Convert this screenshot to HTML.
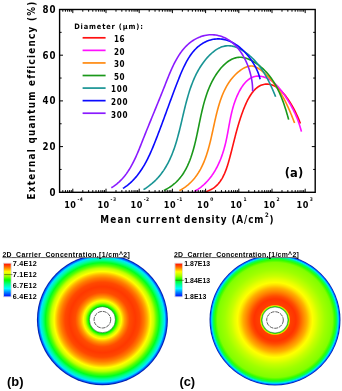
<!DOCTYPE html>
<html><head><meta charset="utf-8"><style>html,body{margin:0;padding:0;background:#fff;width:342px;height:391px;overflow:hidden}svg{display:block;filter:blur(0.3px)}</style></head>
<body>
<svg width="342" height="391" viewBox="0 0 342 391">
<rect width="342" height="391" fill="#fff"/>
<path d="M206.06,191.50 L207.25,191.15 L208.41,190.75 L209.52,190.30 L210.58,189.81 L211.61,189.27 L212.60,188.68 L213.56,188.05 L214.47,187.39 L215.35,186.68 L216.20,185.94 L217.01,185.16 L217.79,184.34 L218.54,183.49 L219.25,182.62 L219.94,181.71 L220.60,180.78 L221.23,179.81 L221.84,178.83 L222.42,177.82 L222.97,176.79 L223.51,175.74 L224.02,174.67 L224.51,173.59 L224.98,172.49 L225.43,171.38 L225.87,170.26 L226.29,169.12 L226.69,167.98 L227.08,166.83 L227.45,165.68 L227.81,164.52 L228.16,163.36 L228.50,162.20 L228.83,161.04 L229.16,159.89 L229.47,158.74 L229.78,157.59 L230.09,156.45 L230.39,155.32 L230.68,154.19 L230.97,153.07 L231.26,151.95 L231.55,150.84 L231.83,149.73 L232.11,148.62 L232.38,147.52 L232.66,146.42 L232.93,145.32 L233.20,144.23 L233.48,143.13 L233.75,142.04 L234.02,140.95 L234.30,139.86 L234.57,138.77 L234.85,137.68 L235.13,136.59 L235.41,135.50 L235.69,134.41 L235.98,133.31 L236.28,132.21 L236.57,131.12 L236.87,130.01 L237.18,128.91 L237.49,127.80 L237.81,126.69 L238.13,125.57 L238.47,124.45 L238.80,123.33 L239.15,122.20 L239.50,121.06 L239.87,119.92 L240.24,118.77 L240.62,117.61 L241.01,116.45 L241.41,115.27 L241.82,114.09 L242.24,112.91 L242.68,111.72 L243.12,110.52 L243.58,109.32 L244.05,108.13 L244.53,106.93 L245.03,105.75 L245.54,104.57 L246.06,103.40 L246.60,102.25 L247.15,101.11 L247.72,99.98 L248.30,98.88 L248.90,97.80 L249.51,96.74 L250.15,95.71 L250.79,94.71 L251.46,93.74 L252.14,92.80 L252.84,91.90 L253.55,91.03 L254.29,90.21 L255.05,89.43 L255.82,88.69 L256.61,88.00 L257.43,87.36 L258.26,86.77 L259.11,86.23 L259.99,85.75 L260.89,85.33 L261.80,84.97 L262.74,84.67 L263.70,84.43 L264.67,84.26 L265.66,84.15 L266.65,84.11 L267.65,84.12 L268.65,84.21 L269.65,84.36 L270.65,84.57 L271.64,84.85 L272.62,85.19 L273.58,85.59 L274.54,86.06 L275.49,86.58 L276.43,87.15 L277.35,87.78 L278.27,88.45 L279.17,89.18 L280.06,89.94 L280.94,90.75 L281.80,91.60 L282.65,92.49 L283.49,93.41 L284.31,94.36 L285.12,95.34 L285.92,96.35 L286.70,97.38 L287.46,98.43 L288.21,99.50 L288.95,100.59 L289.66,101.69 L290.36,102.81 L291.05,103.93 L291.72,105.06 L292.37,106.19 L293.00,107.33 L293.61,108.46 L294.21,109.59 L294.78,110.71 L295.34,111.83 L295.88,112.93 L296.40,114.02 L296.90,115.09 L297.38,116.15 L297.83,117.18 L298.27,118.19 L298.69,119.17 L299.08,120.12 L299.45,121.04 L299.80,121.93 L300.13,122.78 L300.43,123.59" fill="none" stroke="#ff1010" stroke-width="1.6" stroke-linecap="butt" stroke-linejoin="round"/>
<path d="M194.31,191.35 L195.49,190.70 L196.64,190.02 L197.77,189.31 L198.87,188.57 L199.95,187.81 L201.00,187.02 L202.03,186.20 L203.03,185.35 L204.01,184.49 L204.96,183.59 L205.89,182.68 L206.80,181.74 L207.69,180.78 L208.55,179.79 L209.39,178.79 L210.21,177.76 L211.01,176.72 L211.79,175.66 L212.54,174.58 L213.28,173.48 L213.99,172.36 L214.69,171.23 L215.36,170.09 L216.02,168.92 L216.65,167.75 L217.27,166.56 L217.87,165.36 L218.45,164.14 L219.01,162.92 L219.55,161.68 L220.08,160.44 L220.59,159.18 L221.08,157.92 L221.55,156.64 L222.01,155.36 L222.46,154.08 L222.88,152.79 L223.30,151.49 L223.69,150.19 L224.07,148.88 L224.44,147.57 L224.79,146.26 L225.13,144.94 L225.46,143.63 L225.77,142.31 L226.07,140.99 L226.36,139.67 L226.63,138.36 L226.90,137.04 L227.16,135.72 L227.42,134.40 L227.67,133.08 L227.91,131.76 L228.15,130.44 L228.39,129.12 L228.63,127.80 L228.87,126.48 L229.10,125.16 L229.35,123.84 L229.59,122.52 L229.84,121.20 L230.10,119.88 L230.36,118.56 L230.63,117.24 L230.91,115.92 L231.20,114.60 L231.50,113.28 L231.82,111.96 L232.15,110.64 L232.49,109.33 L232.85,108.01 L233.23,106.69 L233.62,105.37 L234.04,104.05 L234.48,102.74 L234.93,101.42 L235.42,100.10 L235.92,98.79 L236.45,97.47 L237.01,96.16 L237.59,94.85 L238.20,93.55 L238.84,92.26 L239.50,90.99 L240.19,89.75 L240.91,88.53 L241.65,87.34 L242.42,86.18 L243.22,85.07 L244.04,84.00 L244.89,82.99 L245.77,82.02 L246.67,81.11 L247.60,80.27 L248.56,79.49 L249.54,78.79 L250.55,78.16 L251.58,77.61 L252.65,77.15 L253.73,76.77 L254.85,76.48 L255.98,76.28 L257.13,76.17 L258.30,76.14 L259.47,76.19 L260.66,76.31 L261.85,76.52 L263.04,76.79 L264.23,77.14 L265.41,77.56 L266.59,78.04 L267.75,78.59 L268.90,79.21 L270.03,79.88 L271.15,80.61 L272.23,81.40 L273.30,82.24 L274.35,83.12 L275.37,84.06 L276.38,85.03 L277.36,86.05 L278.32,87.09 L279.27,88.17 L280.19,89.28 L281.09,90.41 L281.98,91.56 L282.84,92.73 L283.68,93.92 L284.51,95.11 L285.32,96.31 L286.11,97.52 L286.88,98.72 L287.63,99.92 L288.37,101.12 L289.09,102.31 L289.79,103.50 L290.48,104.69 L291.14,105.88 L291.79,107.07 L292.43,108.25 L293.04,109.44 L293.64,110.63 L294.23,111.82 L294.80,113.01 L295.35,114.20 L295.88,115.40 L296.40,116.60 L296.90,117.81 L297.39,119.03 L297.86,120.24 L298.32,121.47 L298.76,122.71 L299.19,123.95 L299.60,125.20 L299.99,126.46 L300.37,127.73 L300.74,129.01 L301.09,130.31 L301.42,131.61" fill="none" stroke="#ff10ff" stroke-width="1.6" stroke-linecap="butt" stroke-linejoin="round"/>
<path d="M179.36,190.69 L180.68,189.97 L181.95,189.22 L183.19,188.44 L184.39,187.63 L185.55,186.80 L186.68,185.94 L187.77,185.05 L188.83,184.14 L189.86,183.21 L190.85,182.25 L191.81,181.27 L192.75,180.26 L193.65,179.24 L194.52,178.19 L195.36,177.12 L196.18,176.03 L196.97,174.92 L197.73,173.79 L198.47,172.65 L199.18,171.48 L199.87,170.30 L200.54,169.10 L201.18,167.88 L201.80,166.65 L202.40,165.40 L202.98,164.13 L203.54,162.86 L204.08,161.57 L204.60,160.26 L205.11,158.95 L205.60,157.62 L206.07,156.28 L206.53,154.92 L206.97,153.56 L207.40,152.19 L207.82,150.81 L208.23,149.42 L208.62,148.03 L209.00,146.62 L209.38,145.21 L209.74,143.79 L210.10,142.37 L210.45,140.94 L210.79,139.51 L211.13,138.07 L211.46,136.63 L211.78,135.18 L212.10,133.74 L212.42,132.29 L212.74,130.84 L213.06,129.39 L213.37,127.94 L213.68,126.49 L214.00,125.04 L214.31,123.59 L214.63,122.14 L214.95,120.70 L215.28,119.26 L215.61,117.82 L215.94,116.39 L216.28,114.96 L216.63,113.54 L216.99,112.13 L217.35,110.72 L217.72,109.32 L218.10,107.92 L218.49,106.54 L218.90,105.16 L219.31,103.79 L219.74,102.43 L220.18,101.09 L220.63,99.75 L221.10,98.42 L221.59,97.11 L222.09,95.81 L222.61,94.53 L223.15,93.25 L223.70,92.00 L224.28,90.75 L224.87,89.53 L225.49,88.32 L226.13,87.12 L226.79,85.94 L227.47,84.78 L228.18,83.64 L228.91,82.52 L229.66,81.42 L230.45,80.34 L231.26,79.28 L232.10,78.24 L232.96,77.22 L233.86,76.22 L234.78,75.25 L235.74,74.30 L236.72,73.37 L237.74,72.47 L238.80,71.59 L239.88,70.74 L241.00,69.92 L242.15,69.14 L243.33,68.42 L244.53,67.76 L245.76,67.19 L247.00,66.71 L248.26,66.34 L249.53,66.10 L250.80,65.99 L252.09,66.04 L253.37,66.25 L254.66,66.62 L255.94,67.14 L257.21,67.77 L258.47,68.50 L259.71,69.31 L260.93,70.17 L262.12,71.08 L263.29,72.02 L264.44,73.00 L265.56,74.01 L266.66,75.05 L267.73,76.12 L268.78,77.21 L269.81,78.33 L270.81,79.46 L271.79,80.61 L272.74,81.78 L273.68,82.96 L274.58,84.15 L275.47,85.34 L276.33,86.54 L277.17,87.75 L277.99,88.95 L278.78,90.15 L279.55,91.35 L280.31,92.54 L281.04,93.74 L281.75,94.93 L282.44,96.12 L283.12,97.32 L283.78,98.51 L284.42,99.71 L285.05,100.92 L285.67,102.13 L286.27,103.35 L286.87,104.57 L287.45,105.80 L288.03,107.05 L288.59,108.30 L289.15,109.56 L289.70,110.84 L290.25,112.13 L290.80,113.44 L291.34,114.76 L291.88,116.10 L292.41,117.45 L292.95,118.82 L293.49,120.22 L294.03,121.63 L294.58,123.07" fill="none" stroke="#ff8a10" stroke-width="1.6" stroke-linecap="butt" stroke-linejoin="round"/>
<path d="M163.82,190.36 L165.29,189.67 L166.72,188.94 L168.10,188.17 L169.43,187.36 L170.72,186.51 L171.97,185.62 L173.18,184.70 L174.34,183.74 L175.46,182.75 L176.55,181.72 L177.59,180.67 L178.60,179.58 L179.57,178.46 L180.50,177.31 L181.40,176.13 L182.27,174.93 L183.11,173.70 L183.91,172.45 L184.68,171.17 L185.42,169.87 L186.14,168.54 L186.83,167.20 L187.49,165.84 L188.12,164.45 L188.74,163.05 L189.32,161.63 L189.89,160.20 L190.43,158.75 L190.96,157.29 L191.46,155.81 L191.95,154.32 L192.42,152.83 L192.87,151.32 L193.31,149.80 L193.73,148.28 L194.14,146.75 L194.53,145.21 L194.92,143.67 L195.29,142.12 L195.66,140.57 L196.02,139.02 L196.37,137.47 L196.71,135.91 L197.05,134.35 L197.38,132.79 L197.70,131.23 L198.03,129.67 L198.35,128.11 L198.67,126.54 L198.99,124.98 L199.31,123.42 L199.63,121.86 L199.95,120.31 L200.28,118.75 L200.61,117.20 L200.94,115.65 L201.28,114.10 L201.63,112.56 L201.98,111.02 L202.35,109.49 L202.72,107.96 L203.10,106.43 L203.49,104.91 L203.89,103.40 L204.31,101.89 L204.74,100.39 L205.18,98.90 L205.64,97.42 L206.12,95.94 L206.61,94.47 L207.12,93.02 L207.65,91.57 L208.20,90.13 L208.77,88.70 L209.36,87.28 L209.98,85.87 L210.61,84.47 L211.28,83.08 L211.96,81.71 L212.67,80.35 L213.41,79.00 L214.18,77.66 L214.97,76.34 L215.80,75.03 L216.65,73.74 L217.54,72.46 L218.46,71.20 L219.41,69.96 L220.38,68.75 L221.39,67.57 L222.43,66.44 L223.49,65.34 L224.59,64.30 L225.71,63.30 L226.85,62.37 L228.03,61.49 L229.22,60.69 L230.45,59.96 L231.70,59.30 L232.97,58.73 L234.26,58.25 L235.58,57.86 L236.92,57.57 L238.29,57.38 L239.67,57.29 L241.08,57.32 L242.50,57.47 L243.94,57.72 L245.39,58.07 L246.84,58.52 L248.29,59.05 L249.75,59.67 L251.19,60.36 L252.62,61.12 L254.04,61.94 L255.43,62.82 L256.80,63.74 L258.14,64.71 L259.45,65.72 L260.71,66.76 L261.94,67.82 L263.14,68.92 L264.29,70.04 L265.42,71.19 L266.50,72.36 L267.56,73.55 L268.58,74.77 L269.57,76.01 L270.52,77.27 L271.45,78.55 L272.35,79.85 L273.21,81.17 L274.05,82.50 L274.87,83.85 L275.65,85.22 L276.41,86.59 L277.15,87.98 L277.86,89.38 L278.55,90.79 L279.21,92.22 L279.86,93.64 L280.48,95.08 L281.08,96.52 L281.67,97.97 L282.23,99.42 L282.78,100.88 L283.31,102.33 L283.83,103.79 L284.33,105.25 L284.81,106.71 L285.28,108.16 L285.74,109.61 L286.19,111.06 L286.62,112.50 L287.05,113.94 L287.46,115.37 L287.87,116.79 L288.27,118.20 L288.66,119.61" fill="none" stroke="#1a981a" stroke-width="1.6" stroke-linecap="butt" stroke-linejoin="round"/>
<path d="M143.51,189.60 L144.93,188.73 L146.31,187.83 L147.66,186.90 L148.96,185.95 L150.23,184.97 L151.47,183.98 L152.66,182.95 L153.82,181.91 L154.95,180.84 L156.05,179.76 L157.11,178.65 L158.14,177.52 L159.14,176.37 L160.10,175.20 L161.04,174.01 L161.95,172.80 L162.83,171.58 L163.69,170.33 L164.51,169.07 L165.32,167.79 L166.09,166.50 L166.84,165.19 L167.57,163.86 L168.28,162.52 L168.96,161.17 L169.62,159.80 L170.26,158.42 L170.88,157.02 L171.48,155.61 L172.07,154.19 L172.63,152.76 L173.18,151.31 L173.71,149.86 L174.23,148.40 L174.73,146.92 L175.22,145.44 L175.69,143.94 L176.16,142.44 L176.61,140.94 L177.05,139.42 L177.48,137.90 L177.90,136.37 L178.31,134.83 L178.72,133.29 L179.11,131.75 L179.50,130.20 L179.89,128.64 L180.27,127.08 L180.64,125.52 L181.02,123.96 L181.39,122.39 L181.75,120.82 L182.12,119.26 L182.49,117.69 L182.85,116.12 L183.22,114.55 L183.59,112.98 L183.96,111.41 L184.34,109.84 L184.72,108.28 L185.10,106.72 L185.49,105.16 L185.89,103.60 L186.30,102.05 L186.71,100.51 L187.13,98.96 L187.56,97.43 L188.00,95.90 L188.45,94.37 L188.91,92.86 L189.39,91.35 L189.87,89.85 L190.38,88.35 L190.89,86.87 L191.42,85.39 L191.97,83.93 L192.54,82.47 L193.12,81.03 L193.72,79.59 L194.34,78.17 L194.98,76.76 L195.64,75.36 L196.33,73.98 L197.03,72.60 L197.76,71.25 L198.51,69.90 L199.28,68.58 L200.09,67.26 L200.91,65.97 L201.77,64.69 L202.65,63.42 L203.56,62.18 L204.49,60.95 L205.46,59.74 L206.46,58.55 L207.49,57.38 L208.55,56.23 L209.63,55.12 L210.75,54.04 L211.89,53.01 L213.06,52.02 L214.26,51.08 L215.48,50.20 L216.72,49.39 L217.99,48.64 L219.28,47.96 L220.59,47.37 L221.93,46.85 L223.28,46.43 L224.65,46.10 L226.04,45.87 L227.45,45.74 L228.87,45.73 L230.31,45.83 L231.77,46.04 L233.23,46.35 L234.70,46.77 L236.16,47.28 L237.63,47.88 L239.09,48.55 L240.53,49.30 L241.97,50.11 L243.38,50.98 L244.77,51.91 L246.13,52.88 L247.47,53.89 L248.76,54.93 L250.02,56.00 L251.25,57.10 L252.44,58.22 L253.59,59.37 L254.72,60.54 L255.80,61.73 L256.86,62.94 L257.89,64.18 L258.89,65.43 L259.85,66.70 L260.79,67.99 L261.71,69.29 L262.59,70.60 L263.45,71.93 L264.29,73.27 L265.10,74.62 L265.89,75.99 L266.66,77.35 L267.41,78.73 L268.13,80.11 L268.84,81.50 L269.53,82.89 L270.20,84.29 L270.86,85.68 L271.50,87.08 L272.13,88.47 L272.74,89.87 L273.34,91.26 L273.92,92.64 L274.50,94.02 L275.07,95.40 L275.62,96.76" fill="none" stroke="#189494" stroke-width="1.6" stroke-linecap="butt" stroke-linejoin="round"/>
<path d="M122.92,188.42 L124.24,187.57 L125.52,186.69 L126.77,185.78 L127.99,184.83 L129.17,183.85 L130.33,182.85 L131.45,181.81 L132.55,180.75 L133.61,179.66 L134.65,178.54 L135.66,177.39 L136.65,176.23 L137.61,175.04 L138.54,173.82 L139.45,172.59 L140.34,171.33 L141.20,170.06 L142.05,168.76 L142.87,167.45 L143.67,166.13 L144.46,164.78 L145.22,163.43 L145.97,162.06 L146.70,160.67 L147.41,159.28 L148.11,157.88 L148.79,156.46 L149.46,155.04 L150.12,153.61 L150.77,152.17 L151.40,150.73 L152.02,149.28 L152.64,147.83 L153.24,146.38 L153.83,144.92 L154.42,143.46 L155.00,142.01 L155.58,140.56 L156.15,139.10 L156.71,137.65 L157.28,136.21 L157.83,134.76 L158.38,133.32 L158.93,131.88 L159.48,130.44 L160.02,129.00 L160.56,127.56 L161.10,126.12 L161.63,124.69 L162.17,123.25 L162.70,121.81 L163.23,120.38 L163.76,118.94 L164.29,117.50 L164.81,116.06 L165.34,114.62 L165.87,113.18 L166.40,111.74 L166.92,110.30 L167.45,108.85 L167.98,107.40 L168.51,105.95 L169.04,104.50 L169.58,103.04 L170.12,101.58 L170.65,100.12 L171.20,98.66 L171.74,97.19 L172.29,95.71 L172.84,94.23 L173.39,92.75 L173.95,91.26 L174.52,89.77 L175.09,88.28 L175.66,86.77 L176.24,85.27 L176.82,83.75 L177.41,82.23 L178.01,80.71 L178.61,79.18 L179.22,77.64 L179.84,76.11 L180.47,74.57 L181.11,73.04 L181.76,71.52 L182.43,70.00 L183.11,68.50 L183.80,67.01 L184.52,65.53 L185.25,64.07 L186.00,62.63 L186.77,61.21 L187.57,59.81 L188.38,58.45 L189.22,57.11 L190.09,55.80 L190.98,54.52 L191.90,53.28 L192.85,52.07 L193.83,50.91 L194.84,49.79 L195.88,48.71 L196.95,47.68 L198.06,46.70 L199.20,45.77 L200.37,44.89 L201.58,44.06 L202.81,43.29 L204.06,42.58 L205.34,41.92 L206.65,41.32 L207.97,40.79 L209.31,40.32 L210.67,39.91 L212.05,39.56 L213.44,39.29 L214.84,39.08 L216.25,38.95 L217.66,38.88 L219.09,38.89 L220.52,38.97 L221.95,39.13 L223.38,39.37 L224.81,39.68 L226.23,40.06 L227.65,40.51 L229.06,41.03 L230.47,41.61 L231.85,42.27 L233.23,42.99 L234.58,43.77 L235.92,44.62 L237.24,45.52 L238.54,46.47 L239.82,47.48 L241.07,48.54 L242.30,49.64 L243.50,50.79 L244.67,51.97 L245.81,53.20 L246.93,54.45 L248.01,55.74 L249.05,57.05 L250.07,58.39 L251.04,59.74 L251.98,61.12 L252.88,62.51 L253.74,63.91 L254.56,65.33 L255.34,66.74 L256.07,68.16 L256.75,69.58 L257.39,71.00 L257.97,72.41 L258.51,73.81 L259.00,75.20 L259.43,76.57 L259.81,77.93 L260.14,79.26" fill="none" stroke="#0a0aff" stroke-width="1.6" stroke-linecap="butt" stroke-linejoin="round"/>
<path d="M111.35,187.77 L112.82,186.84 L114.25,185.87 L115.62,184.86 L116.95,183.81 L118.23,182.72 L119.47,181.59 L120.67,180.42 L121.82,179.22 L122.94,177.99 L124.02,176.73 L125.06,175.44 L126.07,174.12 L127.05,172.77 L127.99,171.40 L128.90,170.00 L129.78,168.58 L130.64,167.14 L131.47,165.68 L132.28,164.20 L133.06,162.71 L133.82,161.20 L134.56,159.67 L135.29,158.14 L135.99,156.59 L136.68,155.04 L137.36,153.47 L138.03,151.90 L138.68,150.33 L139.32,148.75 L139.96,147.17 L140.59,145.59 L141.21,144.01 L141.83,142.44 L142.45,140.87 L143.07,139.30 L143.69,137.74 L144.31,136.19 L144.93,134.64 L145.55,133.09 L146.17,131.55 L146.79,130.02 L147.41,128.49 L148.03,126.96 L148.65,125.43 L149.27,123.90 L149.89,122.38 L150.52,120.85 L151.14,119.33 L151.77,117.81 L152.39,116.28 L153.02,114.76 L153.64,113.23 L154.27,111.70 L154.90,110.17 L155.53,108.64 L156.16,107.10 L156.79,105.56 L157.42,104.02 L158.05,102.46 L158.68,100.91 L159.32,99.35 L159.95,97.78 L160.59,96.20 L161.22,94.62 L161.86,93.03 L162.50,91.43 L163.14,89.82 L163.78,88.21 L164.43,86.58 L165.07,84.95 L165.72,83.30 L166.37,81.65 L167.02,79.99 L167.68,78.33 L168.35,76.68 L169.03,75.02 L169.72,73.37 L170.42,71.72 L171.13,70.08 L171.86,68.46 L172.61,66.84 L173.37,65.24 L174.15,63.66 L174.95,62.09 L175.78,60.55 L176.63,59.03 L177.50,57.54 L178.40,56.07 L179.32,54.64 L180.27,53.23 L181.26,51.86 L182.27,50.53 L183.32,49.23 L184.40,47.98 L185.52,46.77 L186.68,45.60 L187.87,44.48 L189.10,43.41 L190.37,42.39 L191.68,41.42 L193.03,40.51 L194.40,39.66 L195.80,38.87 L197.24,38.14 L198.69,37.47 L200.17,36.87 L201.67,36.35 L203.18,35.89 L204.71,35.51 L206.25,35.20 L207.81,34.97 L209.37,34.82 L210.93,34.76 L212.50,34.78 L214.07,34.88 L215.64,35.06 L217.19,35.33 L218.74,35.67 L220.28,36.09 L221.80,36.59 L223.30,37.17 L224.78,37.82 L226.24,38.54 L227.67,39.33 L229.06,40.20 L230.42,41.13 L231.75,42.14 L233.04,43.21 L234.29,44.34 L235.50,45.53 L236.67,46.78 L237.80,48.08 L238.89,49.44 L239.94,50.84 L240.95,52.28 L241.92,53.76 L242.85,55.28 L243.74,56.83 L244.59,58.41 L245.40,60.02 L246.16,61.65 L246.89,63.31 L247.57,64.98 L248.21,66.66 L248.81,68.35 L249.36,70.05 L249.87,71.76 L250.34,73.46 L250.77,75.17 L251.15,76.86 L251.49,78.55 L251.79,80.22 L252.04,81.88 L252.25,83.52 L252.41,85.14 L252.52,86.73 L252.60,88.29 L252.62,89.82 L252.61,91.31" fill="none" stroke="#8a1aff" stroke-width="1.6" stroke-linecap="butt" stroke-linejoin="round"/>
<path d="M62.81,192.3v-2.2M62.81,9.5v2.2M65.43,192.3v-2.2M65.43,9.5v2.2M67.66,192.3v-2.2M67.66,9.5v2.2M69.58,192.3v-2.2M69.58,9.5v2.2M71.28,192.3v-2.2M71.28,9.5v2.2M72.80,192.3v-3.6M72.80,9.5v3.6M82.79,192.3v-2.2M82.79,9.5v2.2M88.64,192.3v-2.2M88.64,9.5v2.2M92.79,192.3v-2.2M92.79,9.5v2.2M96.01,192.3v-2.2M96.01,9.5v2.2M98.63,192.3v-2.2M98.63,9.5v2.2M100.86,192.3v-2.2M100.86,9.5v2.2M102.78,192.3v-2.2M102.78,9.5v2.2M104.48,192.3v-2.2M104.48,9.5v2.2M106.00,192.3v-3.6M106.00,9.5v3.6M115.99,192.3v-2.2M115.99,9.5v2.2M121.84,192.3v-2.2M121.84,9.5v2.2M125.99,192.3v-2.2M125.99,9.5v2.2M129.21,192.3v-2.2M129.21,9.5v2.2M131.83,192.3v-2.2M131.83,9.5v2.2M134.06,192.3v-2.2M134.06,9.5v2.2M135.98,192.3v-2.2M135.98,9.5v2.2M137.68,192.3v-2.2M137.68,9.5v2.2M139.20,192.3v-3.6M139.20,9.5v3.6M149.19,192.3v-2.2M149.19,9.5v2.2M155.04,192.3v-2.2M155.04,9.5v2.2M159.19,192.3v-2.2M159.19,9.5v2.2M162.41,192.3v-2.2M162.41,9.5v2.2M165.03,192.3v-2.2M165.03,9.5v2.2M167.26,192.3v-2.2M167.26,9.5v2.2M169.18,192.3v-2.2M169.18,9.5v2.2M170.88,192.3v-2.2M170.88,9.5v2.2M172.40,192.3v-3.6M172.40,9.5v3.6M182.39,192.3v-2.2M182.39,9.5v2.2M188.24,192.3v-2.2M188.24,9.5v2.2M192.39,192.3v-2.2M192.39,9.5v2.2M195.61,192.3v-2.2M195.61,9.5v2.2M198.23,192.3v-2.2M198.23,9.5v2.2M200.46,192.3v-2.2M200.46,9.5v2.2M202.38,192.3v-2.2M202.38,9.5v2.2M204.08,192.3v-2.2M204.08,9.5v2.2M205.60,192.3v-3.6M205.60,9.5v3.6M215.59,192.3v-2.2M215.59,9.5v2.2M221.44,192.3v-2.2M221.44,9.5v2.2M225.59,192.3v-2.2M225.59,9.5v2.2M228.81,192.3v-2.2M228.81,9.5v2.2M231.43,192.3v-2.2M231.43,9.5v2.2M233.66,192.3v-2.2M233.66,9.5v2.2M235.58,192.3v-2.2M235.58,9.5v2.2M237.28,192.3v-2.2M237.28,9.5v2.2M238.80,192.3v-3.6M238.80,9.5v3.6M248.79,192.3v-2.2M248.79,9.5v2.2M254.64,192.3v-2.2M254.64,9.5v2.2M258.79,192.3v-2.2M258.79,9.5v2.2M262.01,192.3v-2.2M262.01,9.5v2.2M264.63,192.3v-2.2M264.63,9.5v2.2M266.86,192.3v-2.2M266.86,9.5v2.2M268.78,192.3v-2.2M268.78,9.5v2.2M270.48,192.3v-2.2M270.48,9.5v2.2M272.00,192.3v-3.6M272.00,9.5v3.6M281.99,192.3v-2.2M281.99,9.5v2.2M287.84,192.3v-2.2M287.84,9.5v2.2M291.99,192.3v-2.2M291.99,9.5v2.2M295.21,192.3v-2.2M295.21,9.5v2.2M297.83,192.3v-2.2M297.83,9.5v2.2M300.06,192.3v-2.2M300.06,9.5v2.2M301.98,192.3v-2.2M301.98,9.5v2.2M303.68,192.3v-2.2M303.68,9.5v2.2M305.20,192.3v-3.6M305.20,9.5v3.6M59.6,169.45h2.0M315.2,169.45h-2.0M59.6,146.60h3.4M315.2,146.60h-3.4M59.6,123.75h2.0M315.2,123.75h-2.0M59.6,100.90h3.4M315.2,100.90h-3.4M59.6,78.05h2.0M315.2,78.05h-2.0M59.6,55.20h3.4M315.2,55.20h-3.4M59.6,32.35h2.0M315.2,32.35h-2.0" stroke="#000" stroke-width="1.0" fill="none"/>
<rect x="59.6" y="9.5" width="255.6" height="182.8" fill="none" stroke="#000" stroke-width="1.4"/>
<text x="56.6" y="195.70" font-family="DejaVu Sans Condensed, DejaVu Sans, sans-serif" font-stretch="condensed" font-weight="bold" font-size="9.6" text-anchor="end" letter-spacing="1.0">0</text>
<text x="56.6" y="150.00" font-family="DejaVu Sans Condensed, DejaVu Sans, sans-serif" font-stretch="condensed" font-weight="bold" font-size="9.6" text-anchor="end" letter-spacing="1.0">20</text>
<text x="56.6" y="104.30" font-family="DejaVu Sans Condensed, DejaVu Sans, sans-serif" font-stretch="condensed" font-weight="bold" font-size="9.6" text-anchor="end" letter-spacing="1.0">40</text>
<text x="56.6" y="58.60" font-family="DejaVu Sans Condensed, DejaVu Sans, sans-serif" font-stretch="condensed" font-weight="bold" font-size="9.6" text-anchor="end" letter-spacing="1.0">60</text>
<text x="56.6" y="12.90" font-family="DejaVu Sans Condensed, DejaVu Sans, sans-serif" font-stretch="condensed" font-weight="bold" font-size="9.6" text-anchor="end" letter-spacing="1.0">80</text>
<text x="64.20" y="208.0" font-family="DejaVu Sans Condensed, DejaVu Sans, sans-serif" font-stretch="condensed" font-weight="bold" font-size="9.0" letter-spacing="0.5">10<tspan font-size="4.9" dy="-7.4" dx="0.9">-4</tspan></text>
<text x="97.40" y="208.0" font-family="DejaVu Sans Condensed, DejaVu Sans, sans-serif" font-stretch="condensed" font-weight="bold" font-size="9.0" letter-spacing="0.5">10<tspan font-size="4.9" dy="-7.4" dx="0.9">-3</tspan></text>
<text x="130.60" y="208.0" font-family="DejaVu Sans Condensed, DejaVu Sans, sans-serif" font-stretch="condensed" font-weight="bold" font-size="9.0" letter-spacing="0.5">10<tspan font-size="4.9" dy="-7.4" dx="0.9">-2</tspan></text>
<text x="163.80" y="208.0" font-family="DejaVu Sans Condensed, DejaVu Sans, sans-serif" font-stretch="condensed" font-weight="bold" font-size="9.0" letter-spacing="0.5">10<tspan font-size="4.9" dy="-7.4" dx="0.9">-1</tspan></text>
<text x="197.00" y="208.0" font-family="DejaVu Sans Condensed, DejaVu Sans, sans-serif" font-stretch="condensed" font-weight="bold" font-size="9.0" letter-spacing="0.5">10<tspan font-size="4.9" dy="-7.4" dx="0.9">0</tspan></text>
<text x="230.20" y="208.0" font-family="DejaVu Sans Condensed, DejaVu Sans, sans-serif" font-stretch="condensed" font-weight="bold" font-size="9.0" letter-spacing="0.5">10<tspan font-size="4.9" dy="-7.4" dx="0.9">1</tspan></text>
<text x="263.40" y="208.0" font-family="DejaVu Sans Condensed, DejaVu Sans, sans-serif" font-stretch="condensed" font-weight="bold" font-size="9.0" letter-spacing="0.5">10<tspan font-size="4.9" dy="-7.4" dx="0.9">2</tspan></text>
<text x="296.60" y="208.0" font-family="DejaVu Sans Condensed, DejaVu Sans, sans-serif" font-stretch="condensed" font-weight="bold" font-size="9.0" letter-spacing="0.5">10<tspan font-size="4.9" dy="-7.4" dx="0.9">3</tspan></text>
<text x="100.3" y="222.5" font-family="DejaVu Sans Condensed, DejaVu Sans, sans-serif" font-stretch="condensed" font-weight="bold" font-size="9.8" letter-spacing="1.19">Mean current</text>
<text x="184.0" y="222.5" font-family="DejaVu Sans Condensed, DejaVu Sans, sans-serif" font-stretch="condensed" font-weight="bold" font-size="9.8" letter-spacing="0.95">density</text>
<text x="231.4" y="222.5" font-family="DejaVu Sans Condensed, DejaVu Sans, sans-serif" font-stretch="condensed" font-weight="bold" font-size="9.8" letter-spacing="0.9">(A/cm<tspan font-size="6" dy="-5.4" dx="0.5">2</tspan><tspan dy="5.4">)</tspan></text>
<text transform="translate(35.0,199.4) rotate(-90)" font-family="DejaVu Sans Condensed, DejaVu Sans, sans-serif" font-stretch="condensed" font-weight="bold" font-size="9.8" letter-spacing="1.25">External quantum efficiency (%)</text>
<text x="294" y="177.4" font-family="DejaVu Sans, Liberation Sans, sans-serif" font-weight="bold" font-size="11.5" text-anchor="middle">(a)</text>
<text x="74.2" y="28.9" font-family="DejaVu Sans Condensed, DejaVu Sans, sans-serif" font-stretch="condensed" font-weight="bold" font-size="7.4" letter-spacing="0.85">Diameter (μm):</text>
<line x1="82.6" y1="37.80" x2="105.6" y2="37.80" stroke="#ff1010" stroke-width="1.7"/>
<text x="119.6" y="42.00" font-family="DejaVu Sans Condensed, DejaVu Sans, sans-serif" font-stretch="condensed" font-weight="bold" font-size="8.0" text-anchor="middle" letter-spacing="0.7">16</text>
<line x1="82.6" y1="50.37" x2="105.6" y2="50.37" stroke="#ff10ff" stroke-width="1.7"/>
<text x="119.6" y="54.62" font-family="DejaVu Sans Condensed, DejaVu Sans, sans-serif" font-stretch="condensed" font-weight="bold" font-size="8.0" text-anchor="middle" letter-spacing="0.7">20</text>
<line x1="82.6" y1="62.94" x2="105.6" y2="62.94" stroke="#ff8a10" stroke-width="1.7"/>
<text x="119.6" y="67.24" font-family="DejaVu Sans Condensed, DejaVu Sans, sans-serif" font-stretch="condensed" font-weight="bold" font-size="8.0" text-anchor="middle" letter-spacing="0.7">30</text>
<line x1="82.6" y1="75.51" x2="105.6" y2="75.51" stroke="#1a981a" stroke-width="1.7"/>
<text x="119.6" y="79.86" font-family="DejaVu Sans Condensed, DejaVu Sans, sans-serif" font-stretch="condensed" font-weight="bold" font-size="8.0" text-anchor="middle" letter-spacing="0.7">50</text>
<line x1="82.6" y1="88.08" x2="105.6" y2="88.08" stroke="#189494" stroke-width="1.7"/>
<text x="119.6" y="92.48" font-family="DejaVu Sans Condensed, DejaVu Sans, sans-serif" font-stretch="condensed" font-weight="bold" font-size="8.0" text-anchor="middle" letter-spacing="0.7">100</text>
<line x1="82.6" y1="100.65" x2="105.6" y2="100.65" stroke="#0a0aff" stroke-width="1.7"/>
<text x="119.6" y="105.10" font-family="DejaVu Sans Condensed, DejaVu Sans, sans-serif" font-stretch="condensed" font-weight="bold" font-size="8.0" text-anchor="middle" letter-spacing="0.7">200</text>
<line x1="82.6" y1="113.22" x2="105.6" y2="113.22" stroke="#8a1aff" stroke-width="1.7"/>
<text x="119.6" y="117.72" font-family="DejaVu Sans Condensed, DejaVu Sans, sans-serif" font-stretch="condensed" font-weight="bold" font-size="8.0" text-anchor="middle" letter-spacing="0.7">300</text>
<defs><radialGradient id="gb" gradientUnits="userSpaceOnUse" cx="102.4" cy="319.7" r="65.5"><stop offset="0.0000" stop-color="#00c000"/><stop offset="0.1985" stop-color="#00c000"/><stop offset="0.2046" stop-color="#00e000"/><stop offset="0.2168" stop-color="#10ff00"/><stop offset="0.2382" stop-color="#70ff00"/><stop offset="0.2595" stop-color="#c8ff00"/><stop offset="0.2901" stop-color="#ffff00"/><stop offset="0.3130" stop-color="#ffd000"/><stop offset="0.3389" stop-color="#ffa000"/><stop offset="0.3786" stop-color="#ff7000"/><stop offset="0.4153" stop-color="#ff4c00"/><stop offset="0.5038" stop-color="#ff3800"/><stop offset="0.5725" stop-color="#ff4800"/><stop offset="0.6382" stop-color="#ff7a00"/><stop offset="0.6870" stop-color="#ffb000"/><stop offset="0.7359" stop-color="#ffff00"/><stop offset="0.7863" stop-color="#c0ff00"/><stop offset="0.8244" stop-color="#60ff00"/><stop offset="0.8702" stop-color="#00ff20"/><stop offset="0.9084" stop-color="#00ff90"/><stop offset="0.9511" stop-color="#00e8ff"/><stop offset="0.9740" stop-color="#0070ff"/><stop offset="0.9893" stop-color="#0020c0"/><stop offset="1.0000" stop-color="#1030a0"/></radialGradient></defs>
<circle cx="102.4" cy="319.7" r="65.5" fill="url(#gb)"/>
<circle cx="102.4" cy="319.7" r="13.0" fill="#fff" stroke="#0a6a0a" stroke-width="0.5"/>
<circle cx="102.4" cy="319.7" r="8.3" fill="none" stroke="#444" stroke-width="0.85" stroke-dasharray="4 0.9"/>
<defs><radialGradient id="gc" gradientUnits="userSpaceOnUse" cx="275.0" cy="320.0" r="65.5"><stop offset="0.0000" stop-color="#00c000"/><stop offset="0.1985" stop-color="#00c000"/><stop offset="0.2046" stop-color="#30e800"/><stop offset="0.2137" stop-color="#b0ff00"/><stop offset="0.2229" stop-color="#ffb000"/><stop offset="0.2351" stop-color="#ff4000"/><stop offset="0.3206" stop-color="#ff3300"/><stop offset="0.3664" stop-color="#ff4c00"/><stop offset="0.4275" stop-color="#ff8000"/><stop offset="0.4885" stop-color="#ffb000"/><stop offset="0.5344" stop-color="#ffe000"/><stop offset="0.5725" stop-color="#ffff00"/><stop offset="0.6183" stop-color="#e8ff00"/><stop offset="0.6718" stop-color="#c8ff00"/><stop offset="0.7634" stop-color="#a0ff00"/><stop offset="0.8779" stop-color="#80ff00"/><stop offset="0.9160" stop-color="#30ff00"/><stop offset="0.9450" stop-color="#00ff60"/><stop offset="0.9664" stop-color="#00e0ff"/><stop offset="0.9832" stop-color="#0060ff"/><stop offset="0.9924" stop-color="#0020c0"/><stop offset="1.0000" stop-color="#1030a0"/></radialGradient></defs>
<circle cx="275.0" cy="320.0" r="65.5" fill="url(#gc)"/>
<circle cx="275.0" cy="320.0" r="13.0" fill="#fff" stroke="#0a6a0a" stroke-width="0.5"/>
<circle cx="275.0" cy="320.0" r="8.3" fill="none" stroke="#444" stroke-width="0.85" stroke-dasharray="4 0.9"/>
<rect x="1.4" y="248" width="127.4" height="9.8" fill="#fff"/>
<text x="2.4" y="256.5" font-family="Liberation Sans, Arial, sans-serif" font-weight="bold" font-size="6.9" letter-spacing="0.36">2D_Carrier_Concentration,[1/cm^2]</text>
<line x1="2.4" y1="257.6" x2="128.4" y2="257.6" stroke="#333" stroke-width="0.7"/>
<rect x="173.0" y="248" width="125.0" height="9.8" fill="#fff"/>
<text x="174.0" y="256.5" font-family="Liberation Sans, Arial, sans-serif" font-weight="bold" font-size="6.9" letter-spacing="0.28">2D_Carrier_Concentration,[1/cm^2]</text>
<line x1="174.0" y1="257.6" x2="297.6" y2="257.6" stroke="#333" stroke-width="0.7"/>
<defs><linearGradient id="cb1" x1="0" y1="0" x2="0" y2="1"><stop offset="0" stop-color="#ff1000"/><stop offset="0.13" stop-color="#ff8000"/><stop offset="0.25" stop-color="#ffff00"/><stop offset="0.38" stop-color="#a0ff00"/><stop offset="0.5" stop-color="#00ff00"/><stop offset="0.63" stop-color="#00ff90"/><stop offset="0.76" stop-color="#00ffff"/><stop offset="0.88" stop-color="#0080ff"/><stop offset="1" stop-color="#0010ff"/></linearGradient></defs>
<rect x="3.4" y="263.1" width="7.9" height="33.8" fill="none" stroke="#c8c8c8" stroke-width="0.5"/>
<rect x="3.9" y="263.6" width="6.9" height="32.8" fill="url(#cb1)"/>
<line x1="4.2" y1="274.60" x2="12.5" y2="274.60" stroke="#3a4a10" stroke-width="0.6"/>
<text x="12.8" y="266.10" font-family="Liberation Sans, Arial, sans-serif" font-weight="bold" font-size="7.2" letter-spacing="0.25">7.4E12</text>
<text x="12.8" y="277.30" font-family="Liberation Sans, Arial, sans-serif" font-weight="bold" font-size="7.2" letter-spacing="0.25">7.1E12</text>
<text x="12.8" y="288.10" font-family="Liberation Sans, Arial, sans-serif" font-weight="bold" font-size="7.2" letter-spacing="0.25">6.7E12</text>
<text x="12.8" y="299.10" font-family="Liberation Sans, Arial, sans-serif" font-weight="bold" font-size="7.2" letter-spacing="0.25">6.4E12</text>
<defs><linearGradient id="cb2" x1="0" y1="0" x2="0" y2="1"><stop offset="0" stop-color="#ff1000"/><stop offset="0.13" stop-color="#ff8000"/><stop offset="0.25" stop-color="#ffff00"/><stop offset="0.38" stop-color="#a0ff00"/><stop offset="0.5" stop-color="#00ff00"/><stop offset="0.63" stop-color="#00ff90"/><stop offset="0.76" stop-color="#00ffff"/><stop offset="0.88" stop-color="#0080ff"/><stop offset="1" stop-color="#0010ff"/></linearGradient></defs>
<rect x="174.8" y="263.1" width="7.9" height="33.8" fill="none" stroke="#c8c8c8" stroke-width="0.5"/>
<rect x="175.3" y="263.6" width="6.9" height="32.8" fill="url(#cb2)"/>
<line x1="175.60000000000002" y1="280.30" x2="183.9" y2="280.30" stroke="#3a4a10" stroke-width="0.6"/>
<text x="184.20000000000002" y="266.30" font-family="Liberation Sans, Arial, sans-serif" font-weight="bold" font-size="6.9" letter-spacing="0.05">1.87E13</text>
<text x="184.20000000000002" y="282.50" font-family="Liberation Sans, Arial, sans-serif" font-weight="bold" font-size="6.9" letter-spacing="0.05">1.84E13</text>
<text x="184.20000000000002" y="299.10" font-family="Liberation Sans, Arial, sans-serif" font-weight="bold" font-size="6.9" letter-spacing="0.05">1.8E13</text>
<text x="7.0" y="386.0" font-family="Liberation Sans, Arial, sans-serif" font-weight="bold" font-size="12.9">(b)</text>
<text x="179.4" y="386.0" font-family="Liberation Sans, Arial, sans-serif" font-weight="bold" font-size="12.9">(c)</text>
</svg>
</body></html>
